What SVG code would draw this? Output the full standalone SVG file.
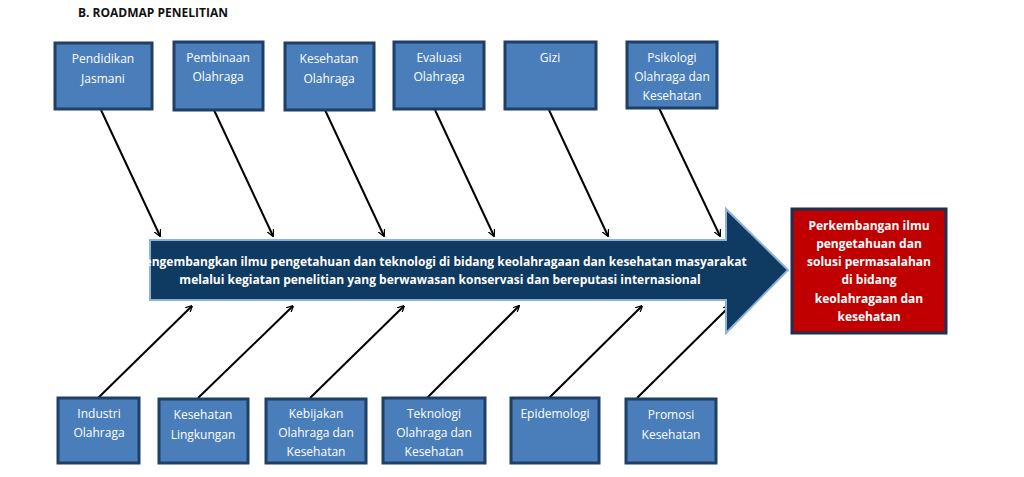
<svg xmlns="http://www.w3.org/2000/svg" width="1024" height="477" viewBox="0 0 1024 477">
<defs>
<marker id="ah" viewBox="0 0 10 10" refX="9" refY="5" markerWidth="7" markerHeight="7" orient="auto" markerUnits="userSpaceOnUse"><path d="M0,0 L10,5 L0,10" fill="none" stroke="#000" stroke-width="1.8"/></marker>
<style>
.box{fill:#4a7ebb;stroke:#1f3f66;stroke-width:3}
.t{font-family:"Open Sans","Liberation Sans",sans-serif;font-size:12px;fill:#fff;text-anchor:middle}
.c{stroke:#000;stroke-width:2;fill:none;marker-end:url(#ah)}
</style>
</defs>
<rect width="1024" height="477" fill="#fff"/>
<text x="78" y="17" font-family="'Open Sans','Liberation Sans',sans-serif" font-size="12" font-weight="bold" fill="#111">B.   ROADMAP PENELITIAN</text>
<g id="connectors">
<line class="c" x1="101" y1="110" x2="160" y2="236"/>
<line class="c" x1="214" y1="110" x2="273" y2="236"/>
<line class="c" x1="325" y1="110" x2="384" y2="236"/>
<line class="c" x1="435" y1="110" x2="494" y2="236"/>
<line class="c" x1="549" y1="110" x2="608" y2="236"/>
<line class="c" x1="659" y1="108" x2="720" y2="236"/>
<line class="c" x1="98" y1="398" x2="192" y2="306"/>
<line class="c" x1="198" y1="398" x2="293" y2="306"/>
<line class="c" x1="310" y1="398" x2="404" y2="306"/>
<line class="c" x1="427" y1="398" x2="519" y2="306"/>
<line class="c" x1="549" y1="398" x2="642" y2="306"/>
<line class="c" x1="637" y1="398" x2="730" y2="306"/>
</g>
<g id="main">
<path d="M150,240 H726 V209 L788,270 L726,333 V300 H150 Z" fill="#0f3a62" stroke="#8fb0d8" stroke-width="2"/>
<text class="t" x="440" y="266" font-weight="bold">Mengembangkan ilmu pengetahuan dan teknologi di bidang keolahragaan dan kesehatan masyarakat</text>
<text class="t" x="440" y="284" font-weight="bold">melalui kegiatan penelitian yang berwawasan konservasi dan bereputasi internasional</text>
</g>
<g id="result">
<rect x="792" y="209" width="154" height="124" fill="#c00000" stroke="#1f3050" stroke-width="3"/>
<text class="t" x="869" y="230" font-weight="bold">Perkembangan ilmu</text>
<text class="t" x="869" y="248" font-weight="bold">pengetahuan dan</text>
<text class="t" x="869" y="266" font-weight="bold">solusi permasalahan</text>
<text class="t" x="869" y="284" font-weight="bold">di bidang</text>
<text class="t" x="869" y="303" font-weight="bold">keolahragaan dan</text>
<text class="t" x="869" y="321" font-weight="bold">kesehatan</text>
</g>
<g id="n1"><rect class="box" x="55" y="43" width="97" height="66"/><text class="t" x="103" y="63">Pendidikan</text><text class="t" x="103" y="83">Jasmani</text></g>
<g id="n2"><rect class="box" x="174" y="42" width="89" height="68"/><text class="t" x="218" y="62">Pembinaan</text><text class="t" x="218" y="81">Olahraga</text></g>
<g id="n3"><rect class="box" x="285" y="43" width="89" height="67"/><text class="t" x="329" y="63">Kesehatan</text><text class="t" x="329" y="83">Olahraga</text></g>
<g id="n4"><rect class="box" x="394" y="42" width="90" height="67"/><text class="t" x="439" y="62">Evaluasi</text><text class="t" x="439" y="81">Olahraga</text></g>
<g id="n5"><rect class="box" x="505" y="42" width="91" height="67"/><text class="t" x="550" y="62">Gizi</text></g>
<g id="n6"><rect class="box" x="627" y="42" width="90" height="66"/><text class="t" x="672" y="62">Psikologi</text><text class="t" x="672" y="81">Olahraga dan</text><text class="t" x="672" y="100">Kesehatan</text></g>
<g id="n7"><rect class="box" x="58" y="398" width="81" height="65"/><text class="t" x="99" y="418">Industri</text><text class="t" x="99" y="437">Olahraga</text></g>
<g id="n8"><rect class="box" x="159" y="399" width="89" height="64"/><text class="t" x="203" y="419">Kesehatan</text><text class="t" x="203" y="439">Lingkungan</text></g>
<g id="n9"><rect class="box" x="266" y="399" width="100" height="64"/><text class="t" x="316" y="418">Kebijakan</text><text class="t" x="316" y="437">Olahraga dan</text><text class="t" x="316" y="456">Kesehatan</text></g>
<g id="n10"><rect class="box" x="383" y="398" width="102" height="65"/><text class="t" x="434" y="418">Teknologi</text><text class="t" x="434" y="437">Olahraga dan</text><text class="t" x="434" y="456">Kesehatan</text></g>
<g id="n11"><rect class="box" x="511" y="398" width="88" height="65"/><text class="t" x="555" y="418">Epidemologi</text></g>
<g id="n12"><rect class="box" x="626" y="399" width="90" height="64"/><text class="t" x="671" y="419">Promosi</text><text class="t" x="671" y="439">Kesehatan</text></g>
</svg>
